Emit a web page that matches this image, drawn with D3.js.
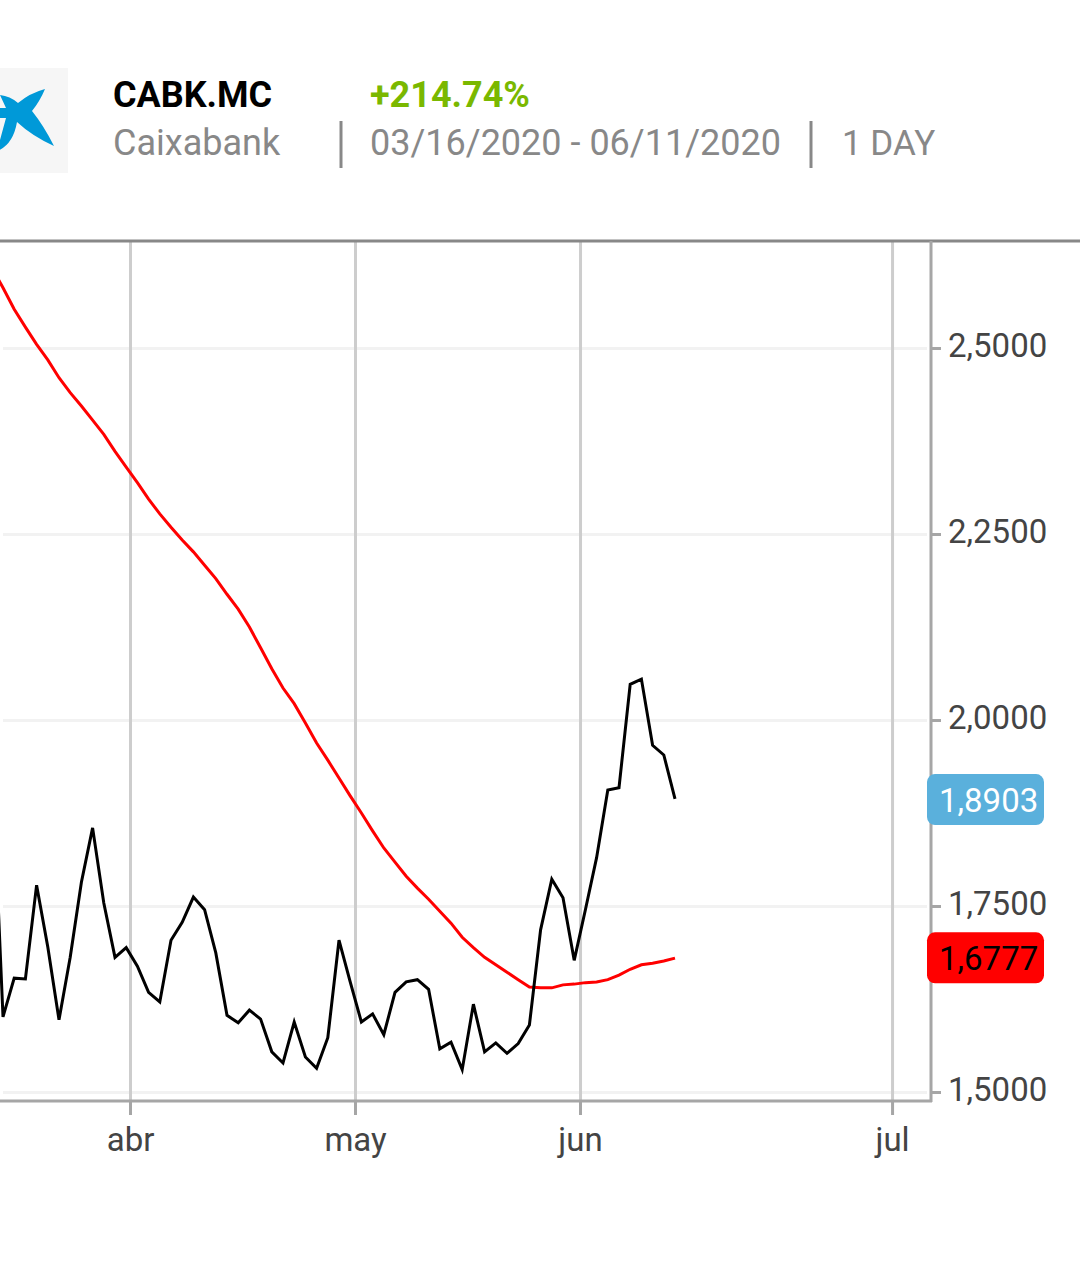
<!DOCTYPE html>
<html>
<head>
<meta charset="utf-8">
<script src="https://cdn.jsdelivr.net/npm/d3@7"></script>
<style>
  html, body { margin: 0; padding: 0; background: #fff; }
  svg { display: block; }
  text { font-family: Roboto, sans-serif; }
</style>
</head>
<body>
<div id="viz"></div>
<script>
// chart values
var closePrices = [1.952, 1.601, 1.653, 1.652, 1.778, 1.695, 1.597, 1.681, 1.782, 1.855,
  1.754, 1.681, 1.694, 1.669, 1.634, 1.621, 1.704, 1.728, 1.762, 1.745,
  1.687, 1.603, 1.593, 1.610, 1.598, 1.554, 1.539, 1.594, 1.547, 1.532,
  1.573, 1.704, 1.648, 1.594, 1.605, 1.577, 1.634, 1.648, 1.651, 1.638,
  1.558, 1.567, 1.530, 1.618, 1.554, 1.566, 1.552, 1.565, 1.590, 1.718,
  1.786, 1.761, 1.677, 1.745, 1.815, 1.906, 1.909, 2.048, 2.055, 1.966,
  1.953, 1.894];
var movingAverage = [2.608, 2.581, 2.552, 2.528, 2.505, 2.484, 2.460, 2.440, 2.422, 2.403,
  2.384, 2.361, 2.340, 2.319, 2.297, 2.277, 2.259, 2.242, 2.226, 2.208,
  2.190, 2.169, 2.149, 2.125, 2.097, 2.069, 2.043, 2.022, 1.996, 1.969,
  1.946, 1.922, 1.898, 1.875, 1.851, 1.828, 1.809, 1.790, 1.774, 1.759,
  1.743, 1.727, 1.708, 1.694, 1.681, 1.671, 1.661, 1.651, 1.641, 1.640,
  1.640, 1.644, 1.645, 1.647, 1.648, 1.651, 1.657, 1.665, 1.671, 1.673,
  1.676, 1.680];
var lastValues = [1.8903, 1.6777]; // printed in the two badges
var priceTicks = [1.5, 1.75, 2, 2.25, 2.5];
var monthLabels = ["abr", "may", "jun", "jul"];
var monthSessions = [11.34, 31.43, 51.52, 79.38]; // session number where each month starts

var symbol = "CABK.MC", company = "Caixabank", change = "+214.74%";
var dateRange = "03/16/2020 - 06/11/2020", interval = "1 DAY";

var svg = d3.select("#viz").append("svg").attr("width", 1080).attr("height", 1281);

var x = d3.scaleLinear().domain([0, 60]).range([3, 675]);
var y = d3.scaleLinear().domain([1.5, 2.5]).range([1092, 348]);
var fmt = function(v) { return d3.format(".4f")(v).replace(".", ","); };

// logo
svg.append("rect").attr("x", 0).attr("y", 68).attr("width", 68).attr("height", 105).attr("fill", "#f6f6f6");
svg.append("path")
  .attr("d", "M45,89 Q40,101 32,111 Q44,126 54,146 Q32,136 17,122 Q13,145 -3,151 L6,118 L-5,118 L-5,108 L6,108 L0,95 Q10,96 18,103 Q30,93 45,89 Z")
  .attr("fill", "#0099d8");

// header text
function headerText(tx, ty, str, color, weight, size) {
  svg.append("text").attr("x", tx).attr("y", ty).attr("fill", color)
    .attr("font-size", size).attr("font-weight", weight).text(str);
}
headerText(113, 107, symbol, "#000", 700, 36);
headerText(113, 155, company, "#888", 400, 36);
headerText(370, 107, change, "#7ab800", 700, 36);
headerText(370, 155, dateRange, "#888", 400, 36);
headerText(842, 155, interval, "#888", 400, 35);
[341, 811].forEach(function(sx) {
  svg.append("line").attr("x1", sx).attr("x2", sx).attr("y1", 121).attr("y2", 168)
    .attr("stroke", "#888").attr("stroke-width", 3);
});

// grid
var hGrid = svg.append("g").attr("transform", "translate(927,0)")
  .call(d3.axisLeft(y).tickValues(priceTicks).tickSize(924).tickFormat(""));
hGrid.select(".domain").remove();
hGrid.selectAll("line").attr("stroke", "#f2f2f2").attr("stroke-width", 3);

var vGrid = svg.append("g").attr("transform", "translate(0,1101)")
  .call(d3.axisTop(x).tickValues(monthSessions).tickSize(860).tickFormat(""));
vGrid.select(".domain").remove();
vGrid.selectAll("line").attr("stroke", "#cdcdcd").attr("stroke-width", 3);

// frame
svg.append("line").attr("x1", 0).attr("x2", 1080).attr("y1", 241).attr("y2", 241)
  .attr("stroke", "#888").attr("stroke-width", 3);
svg.append("line").attr("x1", 931).attr("x2", 931).attr("y1", 241).attr("y2", 1102)
  .attr("stroke", "#a6a6a6").attr("stroke-width", 3);
svg.append("line").attr("x1", 0).attr("x2", 932).attr("y1", 1101).attr("y2", 1101)
  .attr("stroke", "#a6a6a6").attr("stroke-width", 3);

// axes
var yAxis = svg.append("g").attr("transform", "translate(932,0)")
  .call(d3.axisRight(y).tickValues(priceTicks).tickSize(9).tickPadding(7).tickFormat(fmt));
yAxis.select(".domain").remove();
yAxis.selectAll("line").attr("stroke", "#a6a6a6").attr("stroke-width", 3);
yAxis.selectAll("text").attr("font-size", 33).attr("fill", "#444").attr("font-family", "Roboto").attr("dy", "0.25em");

var xAxis = svg.append("g").attr("transform", "translate(0,1101)")
  .call(d3.axisBottom(x).tickValues(monthSessions).tickSize(14).tickPadding(13)
    .tickFormat(function(d, i) { return monthLabels[i]; }));
xAxis.select(".domain").remove();
xAxis.selectAll("line").attr("stroke", "#a6a6a6").attr("stroke-width", 3);
xAxis.selectAll("text").attr("font-size", 33).attr("fill", "#444").attr("font-family", "Roboto");

// lines, first value is the session before the visible edge
var line = d3.line()
  .x(function(d, i) { return x(i - 1); })
  .y(function(d) { return y(d); });

svg.append("path").datum(movingAverage).attr("d", line)
  .attr("fill", "none").attr("stroke", "#f00").attr("stroke-width", 3);
svg.append("path").datum(closePrices).attr("d", line)
  .attr("fill", "none").attr("stroke", "#000").attr("stroke-width", 3);

// last value badges
function badge(value, fill, color) {
  var cy = y(value) - 2;
  svg.append("rect").attr("x", 927).attr("y", cy - 25.5).attr("width", 117).attr("height", 51)
    .attr("rx", 8).attr("fill", fill);
  svg.append("text").attr("x", 939).attr("y", cy + 12).attr("font-size", 33)
    .attr("fill", color).text(fmt(value));
}
badge(lastValues[0], "#5ab0dc", "#fff");
badge(lastValues[1], "#f00", "#000");
</script>
</body>
</html>
